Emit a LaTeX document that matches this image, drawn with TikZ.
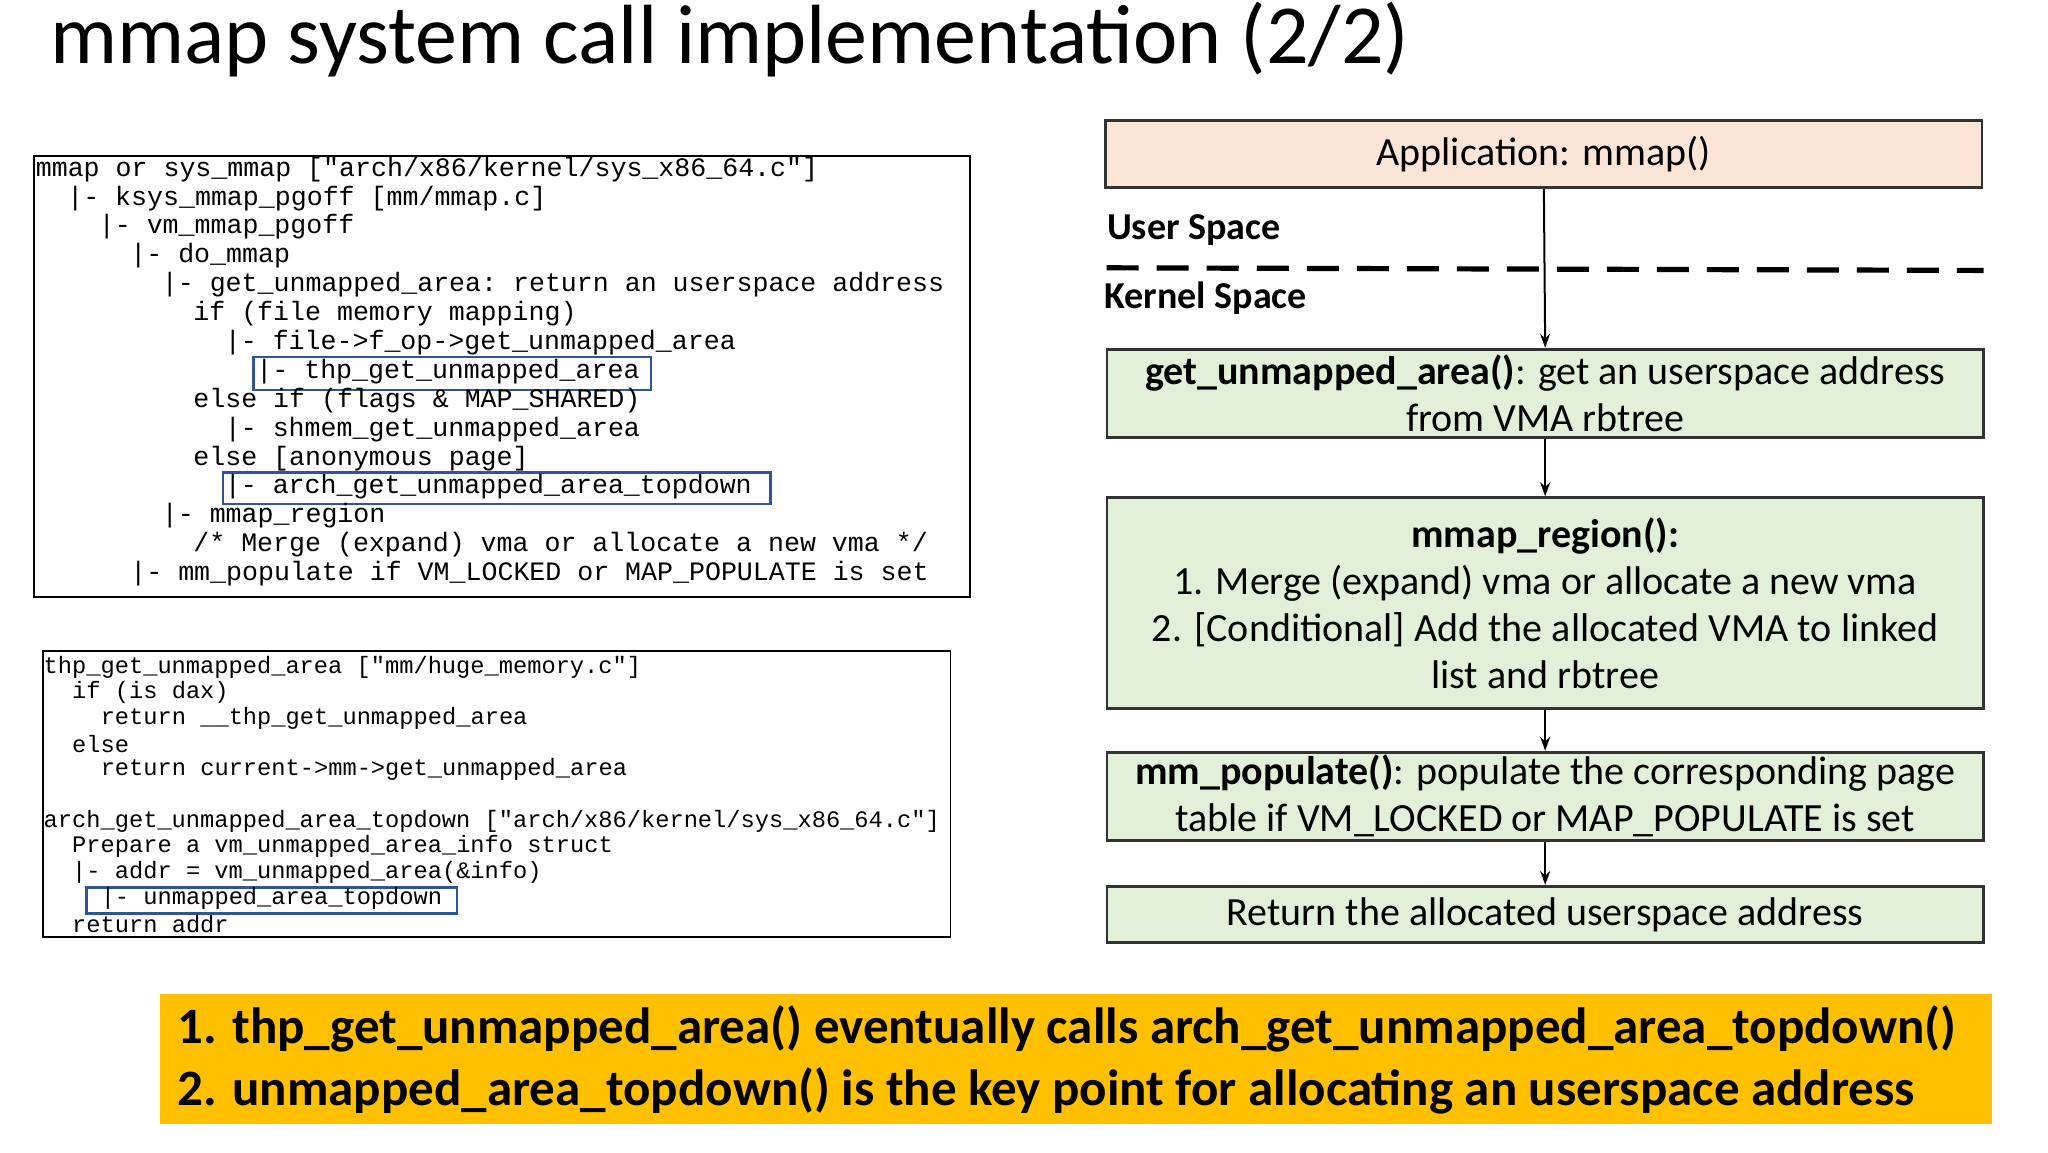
\documentclass[tikz,border=0pt]{standalone}
\usepackage{fontspec}
\setmainfont{Carlito}
\setmonofont{Liberation Mono}
\usetikzlibrary{arrows.meta}
\definecolor{peach}{RGB}{251,229,214}
\definecolor{lgreen}{RGB}{226,240,217}
\definecolor{gold}{RGB}{255,192,0}
\definecolor{hblue}{RGB}{47,85,151}
\begin{document}
\begin{tikzpicture}[x=0.65625pt,y=-0.65625pt,
  codeA/.style={anchor=west,inner sep=0pt,font=\fontsize{13.3}{14}\ttfamily},
  codeB/.style={anchor=west,inner sep=0pt,font=\fontsize{11.85}{13}\ttfamily},
  frame/.style={draw=black,line width=0.9pt},
  hl/.style={draw=hblue,line width=1.3pt},
  flow/.style={draw=black!80,line width=1.4pt,fill=lgreen,minimum width=438pt,inner sep=0pt,align=center,font=\fontsize{20}{23.6}\selectfont},
  arr/.style={-{Stealth[length=7pt,width=5pt]},line width=1pt}]
\useasboundingbox (0,0) rectangle (1560,878);
\node[anchor=west,inner sep=0pt,font=\fontsize{42}{48}\selectfont] (title) at (38,30) {mmap system call implementation (2/2)};
% code box 1
\draw[frame] (26,119) rectangle (739,455);
\draw[hl] (193,272) rectangle (496,297);
\draw[hl] (170,360) rectangle (587,384);
\def\cw{12}
\node[codeA] (c1) at (27,129) {mmap~or~sys\_mmap~["arch/x86/kernel/sys\_x86\_64.c"]};
\node[codeA] (c2) at (27+2*\cw,151) {|-~ksys\_mmap\_pgoff~[mm/mmap.c]};
\node[codeA] (c3) at (27+4*\cw,173) {|-~vm\_mmap\_pgoff};
\node[codeA] (c4) at (27+6*\cw,195) {|-~do\_mmap};
\node[codeA] (c5) at (27+8*\cw,217) {|-~get\_unmapped\_area:~return~an~userspace~address};
\node[codeA] (c6) at (27+10*\cw,239) {if~(file~memory~mapping)};
\node[codeA] (c7) at (27+12*\cw,261) {|-~file->f\_op->get\_unmapped\_area};
\node[codeA] (c8) at (27+14*\cw,283) {|-~thp\_get\_unmapped\_area};
\node[codeA] (c9) at (27+10*\cw,305) {else~if~(flags~\&~MAP\_SHARED)};
\node[codeA] (c10) at (27+12*\cw,327) {|-~shmem\_get\_unmapped\_area};
\node[codeA] (c11) at (27+10*\cw,349) {else~[anonymous~page]};
\node[codeA] (c12) at (27+12*\cw,371) {|-~arch\_get\_unmapped\_area\_topdown};
\node[codeA] (c13) at (27+8*\cw,393) {|-~mmap\_region};
\node[codeA] (c14) at (27+10*\cw,415) {/*~Merge~(expand)~vma~or~allocate~a~new~vma~*/};
\node[codeA] (c15) at (27+6*\cw,437) {|-~mm\_populate~if~VM\_LOCKED~or~MAP\_POPULATE~is~set};
% code box 2
\draw[frame] (33,496) rectangle (724,714);
\draw[hl] (66,676) rectangle (348,696);
\def\dw{10.86}
\node[codeB] (d1) at (33,508) {thp\_get\_unmapped\_area~["mm/huge\_memory.c"]};
\node[codeB] (d2) at (33+2*\dw,527.5) {if~(is~dax)};
\node[codeB] (d3) at (33+4*\dw,547) {return~\_\_thp\_get\_unmapped\_area};
\node[codeB] (d4) at (33+2*\dw,566.5) {else};
\node[codeB] (d5) at (33+4*\dw,586) {return~current->mm->get\_unmapped\_area};
\node[codeB] (d6) at (33,625.5) {arch\_get\_unmapped\_area\_topdown~["arch/x86/kernel/sys\_x86\_64.c"]};
\node[codeB] (d7) at (33+2*\dw,645) {Prepare~a~vm\_unmapped\_area\_info~struct};
\node[codeB] (d8) at (33+2*\dw,664.5) {|-~addr~=~vm\_unmapped\_area(\&info)};
\node[codeB] (d9) at (33+4*\dw,684) {|-~unmapped\_area\_topdown};
\node[codeB] (d10) at (33+2*\dw,703.5) {return~addr};
% right flow
\node[flow,fill=peach,minimum height=33.5pt] (app) at (1176,117.5) {Application: mmap()};
\node[anchor=west,inner sep=0pt,font=\fontsize{19}{20}\bfseries] (us) at (843,175) {User Space};
\node[anchor=west,inner sep=0pt,font=\fontsize{19}{20}\bfseries] (ks) at (841,227) {Kernel Space};
\coordinate (dl) at (843,204);
\coordinate (dr) at (1511,206);
\draw[line width=2.6pt,dash pattern=on 16pt off 9pt] (dl) -- (dr);
\node[flow,minimum height=44pt] (gua) at (1177,299.5) {\textbf{get\_unmapped\_area()}: get an userspace address\\from VMA rbtree};
\node[flow,minimum height=105.5pt] (mr) at (1177,459.5) {\textbf{mmap\_region():}\\1. Merge (expand) vma or allocate a new vma\\2. [Conditional] Add the allocated VMA to linked\\list and rbtree};
\node[flow,minimum height=44pt] (mp) at (1177,606.5) {\textbf{mm\_populate()}: populate the corresponding page\\table if VM\_LOCKED or MAP\_POPULATE is set};
\node[flow,minimum height=28pt] (ret) at (1177,696.5) {Return the allocated userspace address};
\draw[arr] (app.south) -- (gua.north);
\draw[arr] (gua) -- (mr);
\draw[arr] (mr) -- (mp);
\draw[arr] (mp) -- (ret);
% bottom note
\fill[gold] (122,757) rectangle (1517,856);
\node[anchor=west,inner sep=0pt,align=left,font=\fontsize{25.5}{31}\bfseries] (note) at (135,807) {1. thp\_get\_unmapped\_area() eventually calls arch\_get\_unmapped\_area\_topdown()\\2. unmapped\_area\_topdown() is the key point for allocating an userspace address};
\end{tikzpicture}
\end{document}
